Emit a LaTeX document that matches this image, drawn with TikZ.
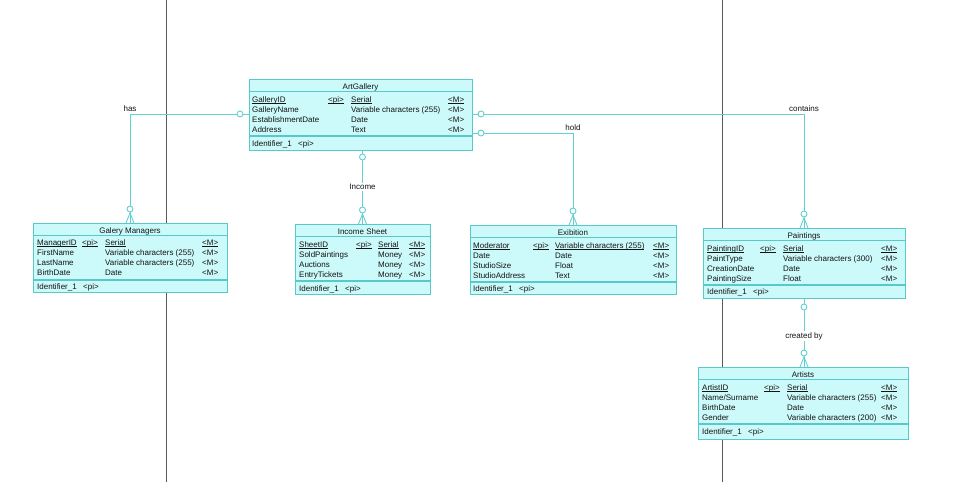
\documentclass[tikz,border=0pt]{standalone}
\usepackage{fontspec}
\setmainfont{Liberation Sans}
\usetikzlibrary{calc}
\definecolor{entf}{RGB}{204,249,249}
\definecolor{entb}{RGB}{88,200,200}
\definecolor{relc}{RGB}{100,208,208}
\definecolor{txtc}{RGB}{20,20,20}
\definecolor{sepc}{RGB}{90,90,90}
\tikzset{
 ent/.style={draw=entb, fill=entf, line width=0.9pt, rectangle, inner sep=0pt, outer sep=0pt, anchor=north west},
 sepl/.style={draw=entb, line width=0.9pt},
 idsep/.style={draw=entb, line width=1.3pt},
 txt/.style={font=\fontsize{8}{9}\selectfont, text=txtc, inner sep=0pt, anchor=base west},
 ttl/.style={txt, anchor=base},
 lbl/.style={font=\fontsize{8}{9}\selectfont, text=txtc, inner sep=0pt, anchor=base},
 rel/.style={draw=relc, line width=0.9pt},
 opt/.style={draw=relc, fill=white, line width=0.9pt},
 vline/.style={draw=sepc, line width=1pt},
}
\newcommand\pk[1]{{\setbox0\hbox{#1}\rlap{\rule[-1.3pt]{\wd0}{0.6pt}}\box0}}
\newcommand\entbox[6]{%
 \node[ent, minimum width=#4pt, minimum height=#5pt] (#1) at (#2,#3) {};
 \draw[sepl] ($(#1.north west)+(0,12)$) -- ($(#1.north east)+(0,12)$);
 \draw[idsep] ($(#1.north west)+(0,57)$) -- ($(#1.north east)+(0,57)$);
 \node[ttl] (#1-title) at ($(#1.north)+(0,10)$) {#6};}
\newcommand\cols[4]{\def\colA{#1}\def\colB{#2}\def\colC{#3}\def\colD{#4}}
\newcommand\entrow[6]{%
 \node[txt] (#1-#2-a) at (\colA,#2) {#3};
 \node[txt] (#1-#2-b) at (\colB,#2) {#4};
 \node[txt] (#1-#2-c) at (\colC,#2) {#5};
 \node[txt] (#1-#2-d) at (\colD,#2) {#6};}
\newcommand\entid[2]{%
 \node[txt] (#1-id) at (\colA,#2) {Identifier\_1};
 \node[txt] (#1-idpi) at (\colA+46,#2) {<pi>};}
\newcommand\crow[1]{%
 \draw[rel] ($(#1)+(-4,0)$) -- ($(#1)+(0,-10)$) -- ($(#1)+(4,0)$);
 \draw[opt] ($(#1)+(0,-14)$) circle[radius=3];}
\begin{document}
\begin{tikzpicture}[x=1pt,y=-1pt]
\useasboundingbox (0,0) rectangle (974,482);
% background vertical lines
\coordinate (v1t) at (166,0); \coordinate (v1b) at (166,482);
\coordinate (v2t) at (722,0); \coordinate (v2b) at (722,482);
\draw[vline] (v1t) -- (v1b);
\draw[vline] (v2t) -- (v2b);

% ArtGallery
\entbox{ag}{249}{79}{223}{71}{ArtGallery}
\cols{252}{328}{351}{448}
\entrow{ag}{102}{\pk{GalleryID}}{\pk{<pi>}}{\pk{Serial}}{\pk{<M>}}
\entrow{ag}{112}{GalleryName}{}{Variable characters (255)}{<M>}
\entrow{ag}{122}{EstablishmentDate}{}{Date}{<M>}
\entrow{ag}{132}{Address}{}{Text}{<M>}
\entid{ag}{146}

% Galery Managers
\entbox{galm}{33}{223}{194}{69}{Galery Managers}
\cols{37}{82}{105}{202}
\entrow{galm}{245}{\pk{ManagerID}}{\pk{<pi>}}{\pk{Serial}}{\pk{<M>}}
\entrow{galm}{255}{FirstName}{}{Variable characters (255)}{<M>}
\entrow{galm}{265}{LastName}{}{Variable characters (255)}{<M>}
\entrow{galm}{275}{BirthDate}{}{Date}{<M>}
\entid{galm}{289}

% Income Sheet
\entbox{inc}{295}{224}{135}{70}{Income Sheet}
\cols{299}{356}{378}{409}
\entrow{inc}{247}{\pk{SheetID}}{\pk{<pi>}}{\pk{Serial}}{\pk{<M>}}
\entrow{inc}{257}{SoldPaintings}{}{Money}{<M>}
\entrow{inc}{267}{Auctions}{}{Money}{<M>}
\entrow{inc}{277}{EntryTickets}{}{Money}{<M>}
\entid{inc}{291}

% Exibition
\entbox{exb}{470}{225}{206}{69}{Exibition}
\cols{473}{533}{555}{653}
\entrow{exb}{248}{\pk{Moderator}}{\pk{<pi>}}{\pk{Variable characters (255)}}{\pk{<M>}}
\entrow{exb}{258}{Date}{}{Date}{<M>}
\entrow{exb}{268}{StudioSize}{}{Float}{<M>}
\entrow{exb}{278}{StudioAddress}{}{Text}{<M>}
\entid{exb}{291}

% Paintings
\entbox{pnt}{703}{228}{202}{70}{Paintings}
\cols{707}{760}{783}{881}
\entrow{pnt}{251}{\pk{PaintingID}}{\pk{<pi>}}{\pk{Serial}}{\pk{<M>}}
\entrow{pnt}{261}{PaintType}{}{Variable characters (300)}{<M>}
\entrow{pnt}{271}{CreationDate}{}{Date}{<M>}
\entrow{pnt}{281}{PaintingSize}{}{Float}{<M>}
\entid{pnt}{294}

% Artists
\entbox{art}{698}{367}{210}{72}{Artists}
\cols{702}{764}{787}{881}
\entrow{art}{390}{\pk{ArtistID}}{\pk{<pi>}}{\pk{Serial}}{\pk{<M>}}
\entrow{art}{400}{Name/Surname}{}{Variable characters (255)}{<M>}
\entrow{art}{410}{BirthDate}{}{Date}{<M>}
\entrow{art}{420}{Gender}{}{Variable characters (200)}{<M>}
\entid{art}{434}

% has
\coordinate (hasS) at ($(ag.north west)+(0,35)$);
\coordinate (hasE) at (galm.north);
\draw[rel] (hasS) -| (hasE);
\draw[opt] ($(hasS)+(-9,0)$) circle[radius=3];
\crow{hasE}
\node[lbl] (hasL) at ($(hasS -| hasE)+(0,-3)$) {has};

% Income
\coordinate (incE) at (inc.north);
\coordinate (incS) at (ag.south -| incE);
\draw[rel] (incS) -- (incE);
\draw[opt] ($(incS)+(0,7)$) circle[radius=3];
\crow{incE}
\node[lbl, anchor=center, fill=white, inner sep=1pt] (incL) at ($(incS)!0.5!(incE)$) {Income};

% hold
\coordinate (holdS) at ($(ag.north east)+(0,54)$);
\coordinate (holdE) at (exb.north);
\draw[rel] (holdS) -| (holdE);
\draw[opt] ($(holdS)+(9,0)$) circle[radius=3];
\crow{holdE}
\node[lbl] (holdL) at ($(holdS -| holdE)+(0,-3)$) {hold};

% contains
\coordinate (conS) at ($(ag.north east)+(0,35)$);
\coordinate (conE) at (pnt.north);
\draw[rel] (conS) -| (conE);
\draw[opt] ($(conS)+(9,0)$) circle[radius=3];
\crow{conE}
\node[lbl] (conL) at ($(conS -| conE)+(0,-3)$) {contains};

% created by
\coordinate (crS) at (pnt.south);
\coordinate (crE) at (crS |- art.north);
\draw[rel] (crS) -- (crE);
\draw[opt] ($(crS)+(0,9)$) circle[radius=3];
\crow{crE}
\node[lbl, anchor=center, fill=white, inner sep=1pt] (crL) at ($(crS)!0.55!(crE)$) {created by};
\end{tikzpicture}
\end{document}
